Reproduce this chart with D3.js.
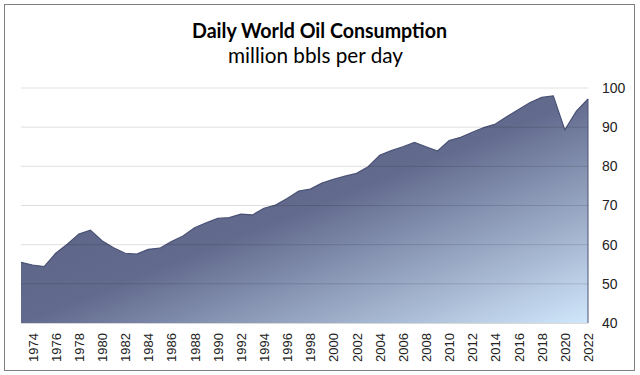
<!DOCTYPE html>
<html>

<head>
    <meta charset="utf-8">
    <style>
        body {
            margin: 0;
            background: #fff;
        }

        svg {
            display: block;
            font-family: Lato, 'Open Sans', sans-serif;
        }

        .title {
            font-size: 20.5px;
            font-weight: bold;
            fill: #000;
        }

        .subtitle {
            font-size: 20.5px;
            fill: #000;
        }

        .y .tick text {
            font-size: 14px;
            fill: #222;
        }

        .x .tick text {
            font-size: 13px;
            fill: #222;
        }

        .grid line {
            stroke: rgba(0, 0, 0, .13);
        }
    </style>
</head>

<body>
    <svg width="640" height="375"></svg>

    <script src="https://cdnjs.cloudflare.com/ajax/libs/d3/7.8.5/d3.min.js"></script>
    <script>
        // data
        let years = d3.range(1973, 2023)
        let consumption = [
            55.5, 54.8, 54.4, 57.8, 60.1, 62.7, 63.7, 61.0, 59.2, 57.8,
            57.6, 58.8, 59.1, 60.8, 62.2, 64.3, 65.6, 66.7, 66.9, 67.8,
            67.6, 69.3, 70.1, 71.8, 73.7, 74.2, 75.7, 76.7, 77.5, 78.2,
            79.9, 82.8, 84.0, 85.0, 86.1, 85.0, 83.9, 86.6, 87.4, 88.7,
            89.9, 90.8, 92.7, 94.5, 96.3, 97.6, 98.0, 89.3, 94.1, 97.2
        ]
        let yTicks = [40, 50, 60, 70, 80, 90, 100]
        let xTickYears = years.filter(y => y % 2 === 0)

        let data = years.map((y, i) => ({ year: y, value: consumption[i] }))

        let svg = d3.select("svg")
        let margin = { top: 88, right: 52, bottom: 52, left: 21 }
        let width = 640, height = 375

        // outer frame
        svg.append("rect")
            .attr("x", 4.5).attr("y", 4.5)
            .attr("width", 630).attr("height", 366)
            .attr("fill", "none")
            .attr("stroke", "#808080")

        svg.append("text")
            .attr("class", "title")
            .attr("x", 319.5).attr("y", 38)
            .attr("text-anchor", "middle")
            .attr("textLength", 255)
            .attr("lengthAdjust", "spacingAndGlyphs")
            .text("Daily World Oil Consumption")

        svg.append("text")
            .attr("class", "subtitle")
            .attr("x", 315.5).attr("y", 63)
            .attr("text-anchor", "middle")
            .attr("textLength", 175)
            .attr("lengthAdjust", "spacingAndGlyphs")
            .text("million bbls per day")

        let x = d3.scaleLinear()
            .domain(d3.extent(years))
            .range([margin.left, width - margin.right])

        let y = d3.scaleLinear()
            .domain([40, 100])
            .range([height - margin.bottom, margin.top])

        // diagonal gradient over the area's own box
        let grad = svg.append("defs").append("linearGradient")
            .attr("id", "fade")
            .attr("x1", 0).attr("y1", 0)
            .attr("x2", 1).attr("y2", 1)
        grad.append("stop").attr("offset", 0).attr("stop-color", "#565d80")
        grad.append("stop").attr("offset", 0.5).attr("stop-color", "#626a8d")
        grad.append("stop").attr("offset", 1).attr("stop-color", "#d0e7fb")

        let area = d3.area()
            .x(d => x(d.year))
            .y0(y(40))
            .y1(d => y(d.value))

        let line = d3.line()
            .x(d => x(d.year))
            .y(d => y(d.value))

        svg.append("path")
            .datum(data)
            .attr("fill", "url(#fade)")
            .attr("d", area)

        svg.append("path")
            .datum(data)
            .attr("fill", "none")
            .attr("stroke", "#4a5275")
            .attr("stroke-width", 1.2)
            .attr("d", line)

        // right edge of the area
        svg.append("line")
            .attr("x1", x(2022)).attr("x2", x(2022))
            .attr("y1", y(consumption[consumption.length - 1])).attr("y2", y(40))
            .attr("stroke", "#4a5275")

        // gridlines
        svg.append("g")
            .attr("class", "grid")
            .selectAll("line")
            .data(yTicks.slice(1))
            .join("line")
            .attr("x1", x.range()[0]).attr("x2", x.range()[1])
            .attr("y1", d => y(d)).attr("y2", d => y(d))

        // x axis line
        svg.append("line")
            .attr("x1", x.range()[0]).attr("x2", x.range()[1])
            .attr("y1", y(40) + 0.5).attr("y2", y(40) + 0.5)
            .attr("stroke", "#d9d9d9")

        let yAxis = svg.append("g")
            .attr("class", "y axis")
            .attr("transform", `translate(${width - margin.right},0)`)
            .call(d3.axisRight(y).tickValues(yTicks).tickSize(0).tickPadding(14))
            .call(g => g.select(".domain").remove())

        let xAxis = svg.append("g")
            .attr("class", "x axis")
            .attr("transform", `translate(0,${y(40)})`)
            .call(d3.axisBottom(x).tickValues(xTickYears).tickFormat(d3.format("d")).tickSize(0))
            .call(g => g.select(".domain").remove())

        xAxis.selectAll(".tick text")
            .attr("transform", "rotate(-90)")
            .attr("text-anchor", "end")
            .attr("x", -10)
            .attr("y", 0)
            .attr("dy", "0.35em")
    </script>
</body>

</html>
